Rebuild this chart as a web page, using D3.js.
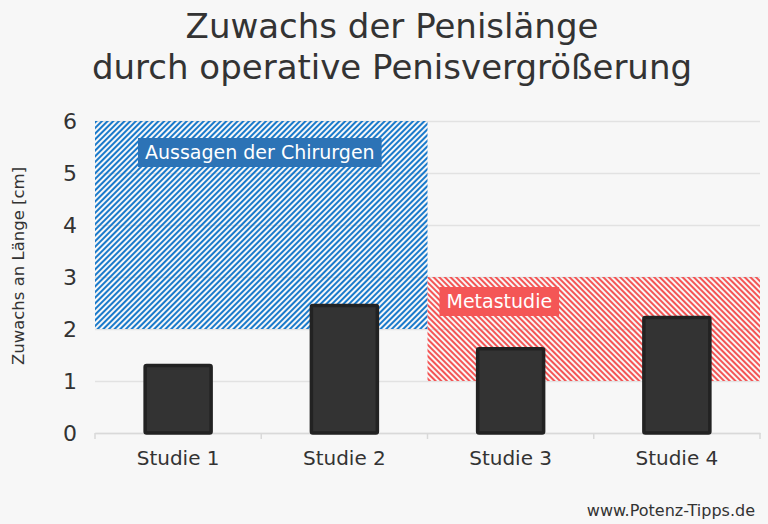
<!DOCTYPE html>
<html>
<head>
<meta charset="utf-8">
<script src="https://cdn.jsdelivr.net/npm/d3@7"></script>
<style>
  html, body { margin: 0; padding: 0; background: #f7f7f7; }
  svg { display: block; font-family: "DejaVu Sans", sans-serif; }
</style>
</head>
<body>
<div id="chart"></div>
<script>
// data
const studien = ["Studie 1", "Studie 2", "Studie 3", "Studie 4"];
const zuwachs = [1.3, 2.45, 1.62, 2.22];
const yTicks = [0, 1, 2, 3, 4, 5, 6];

// shaded ranges
const bereiche = [
    { label: "Aussagen der Chirurgen", from: "Studie 1", to: "Studie 2", low: 2, high: 6, color: "#1a7acb", box: "#2c73b6", pat: "hatchBlue", rot: 45 },
    { label: "Metastudie", from: "Studie 3", to: "Studie 4", low: 1, high: 3, color: "#f45555", box: "#f45656", pat: "hatchRed", rot: -45 }
];

const titel = ["Zuwachs der Penislänge", "durch operative Penisvergrößerung"];
const yTitel = "Zuwachs an Länge [cm]";
const quelle = "www.Potenz-Tipps.de";

const fullWidth = 768, fullHeight = 524;
const margin = { top: 121, right: 8, bottom: 91, left: 95 };
const width = fullWidth - margin.left - margin.right;
const height = fullHeight - margin.top - margin.bottom;
const font = "\"DejaVu Sans\", sans-serif";

const svg = d3.select("#chart").append("svg")
    .attr("width", fullWidth)
    .attr("height", fullHeight);

svg.append("rect").attr("width", fullWidth).attr("height", fullHeight).attr("fill", "#f7f7f7");

// hatch patterns
const defs = svg.append("defs");
bereiche.forEach(b => {
    const p = defs.append("pattern")
        .attr("id", b.pat)
        .attr("patternUnits", "userSpaceOnUse")
        .attr("width", 4)
        .attr("height", 4)
        .attr("patternTransform", `rotate(${b.rot})`);
    p.append("rect")
        .attr("width", 2)
        .attr("height", 4)
        .attr("fill", b.color);
});

// title
svg.append("text")
    .attr("text-anchor", "middle")
    .style("font-size", "34px")
    .style("fill", "#333")
    .selectAll("tspan")
    .data(titel)
    .enter()
    .append("tspan")
    .attr("x", fullWidth / 2 + 8)
    .attr("y", (d, i) => 38 + i * 41)
    .text(d => d);

const g = svg.append("g")
    .attr("transform", `translate(${margin.left},${margin.top})`);

const x = d3.scaleBand()
    .domain(studien)
    .range([0, width])
    .padding(0);

const y = d3.scaleLinear()
    .domain([0, 6])
    .range([height, 0]);

// grid
g.append("g")
    .call(d3.axisLeft(y).tickValues(yTicks).tickSize(-width).tickFormat(""))
    .call(a => a.select(".domain").remove())
    .selectAll("line")
    .style("stroke", "#e2e2e2")
    .style("stroke-width", 1.5);

// hatched ranges
bereiche.forEach(b => {
    const x0 = x(b.from), x1 = x(b.to) + x.bandwidth();
    g.append("rect")
        .attr("x", x0)
        .attr("y", y(b.high))
        .attr("width", x1 - x0)
        .attr("height", y(b.low) - y(b.high))
        .attr("fill", `url(#${b.pat})`);
});

// x axis
const xAxis = g.append("g")
    .attr("transform", `translate(0,${height})`)
    .call(d3.axisBottom(x).tickSize(0).tickPadding(18));
xAxis.select(".domain").style("stroke", "#d9d9d9").style("stroke-width", 1.5);
xAxis.selectAll("text")
    .style("font-size", "20px")
    .style("fill", "#333")
    .style("font-family", font);

// tick marks on band boundaries
g.selectAll(".sep")
    .data(d3.range(studien.length + 1))
    .enter()
    .append("line")
    .attr("x1", i => i * x.step())
    .attr("x2", i => i * x.step())
    .attr("y1", height)
    .attr("y2", height + 6)
    .style("stroke", "#d9d9d9")
    .style("stroke-width", 1.5);

// y labels
g.append("g")
    .call(d3.axisLeft(y).tickValues(yTicks).tickSize(0).tickPadding(18).tickFormat(d3.format("d")))
    .call(a => a.select(".domain").remove())
    .selectAll("text")
    .style("font-size", "22px")
    .style("fill", "#333")
    .style("font-family", font);

// bars
const barW = 66;
g.selectAll(".bar")
    .data(studien)
    .enter()
    .append("rect")
    .attr("class", "bar")
    .attr("x", d => x(d) + x.bandwidth() / 2 - barW / 2)
    .attr("y", (d, i) => y(zuwachs[i]))
    .attr("width", barW)
    .attr("height", (d, i) => height - y(zuwachs[i]))
    .attr("rx", 1.5)
    .attr("fill", "#333")
    .attr("stroke", "#222")
    .attr("stroke-width", 3.5);

// range labels
bereiche.forEach((b, i) => {
    const lx = x(b.from) + (i === 0 ? 43 : 12);
    const ly = y(b.high) + (i === 0 ? 17 : 10);
    const box = g.append("rect")
        .attr("x", lx)
        .attr("y", ly)
        .attr("height", 29)
        .attr("fill", b.box);
    const t = g.append("text")
        .attr("x", lx + 7)
        .attr("y", ly + 21)
        .style("font-size", "19px")
        .style("fill", "#fff")
        .text(b.label);
    box.attr("width", t.node().getComputedTextLength() + 14);
});

// y title
svg.append("text")
    .attr("transform", `translate(24,${margin.top + height / 2 - 11}) rotate(-90)`)
    .attr("text-anchor", "middle")
    .style("font-size", "16.5px")
    .style("fill", "#333")
    .text(yTitel);

// source
svg.append("text")
    .attr("x", 755)
    .attr("y", 516)
    .attr("text-anchor", "end")
    .style("font-size", "16px")
    .style("fill", "#333")
    .text(quelle);
</script>
</body>
</html>
